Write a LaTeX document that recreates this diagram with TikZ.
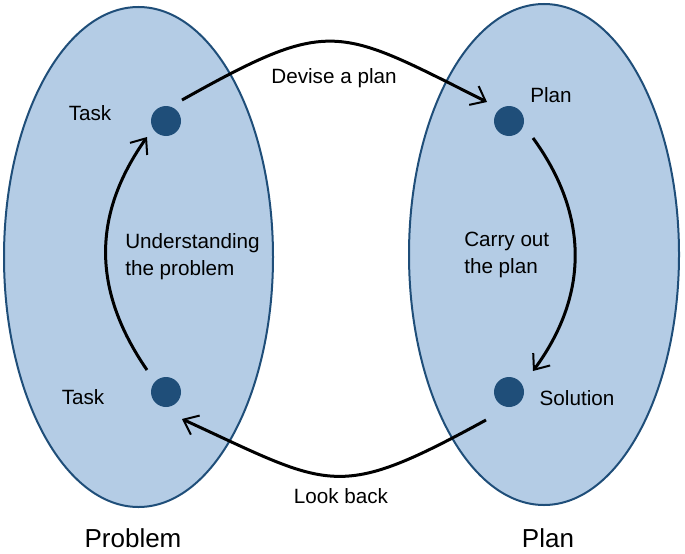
\documentclass[tikz,border=0pt]{standalone}
\usepackage{fontspec}
\setmainfont{Liberation Sans}
\usetikzlibrary{arrows.meta,shapes.geometric}
\definecolor{fillblue}{HTML}{B4CCE5}
\definecolor{edgeblue}{HTML}{1F4E79}
\definecolor{dotblue}{HTML}{1F4E79}
\begin{document}
\begin{tikzpicture}[x=0.75pt,y=-0.75pt,
  region/.style={ellipse, draw=edgeblue, fill=fillblue, line width=1.5pt, inner sep=0pt},
  dot/.style={circle, fill=dotblue, minimum size=22.5pt, inner sep=0pt},
  lbl/.style={font=\fontsize{15.5}{20.25}\selectfont, inner sep=0pt},
  title/.style={font=\fontsize{19.5}{24}\selectfont, inner sep=0pt},
  flow/.style={line width=2.25pt, -{Straight Barb[length=9.75pt,width=15.75pt,line width=1.5pt]}}
]
\path[use as bounding box] (0,0) rectangle (685,553);

\node[region, minimum width=201.75pt, minimum height=375pt] (problem) at (138.5,257) {};
\node[region, minimum width=202.5pt, minimum height=375.75pt] (plan) at (544,254.5) {};

\node[dot] (task1) at (166,121) {};
\node[dot] (task2) at (166,392) {};
\node[dot] (plan1) at (509,121) {};
\node[dot] (sol) at (509,392) {};

\coordinate (t1a) at ([shift={(16,-21)}]task1.center);
\coordinate (t1b) at ([shift={(-19,16)}]task1.center);
\coordinate (t2a) at ([shift={(16,27)}]task2.center);
\coordinate (t2b) at ([shift={(-19,-22)}]task2.center);
\coordinate (p1a) at ([shift={(-22,-19)}]plan1.center);
\coordinate (p1b) at ([shift={(24,17)}]plan1.center);
\coordinate (s2a) at ([shift={(-23,28)}]sol.center);
\coordinate (s2b) at ([shift={(24,-21)}]sol.center);

\draw[flow] (t1a) .. controls (332,16) and (337,27) .. (p1a);
\draw[flow] (s2a) .. controls (336,502) and (332,488) .. (t2a);
\draw[flow] (t2b) .. controls (92,290) and (92,215) .. (t1b);
\draw[flow] (p1b) .. controls (589,215) and (589,295) .. (s2b);

\node[lbl] (ltask1) at (90,113) {Task};
\node[lbl] (ltask2) at (83,397) {Task};
\node[lbl] (lplan) at (551,95) {Plan};
\node[lbl] (lsol) at (577,398) {Solution};
\node[lbl] (ldevise) at (334,78) {Devise a plan};
\node[lbl] (llook) at (341,496) {Look back};
\node[lbl, anchor=west, align=left] (lunder) at (125,256.5) {Understanding\\the problem};
\node[lbl, anchor=west, align=left] (lcarry) at (464,255) {Carry out\\the plan};
\node[title] (tproblem) at (133,538) {Problem};
\node[title] (tplan) at (548,538) {Plan};
\end{tikzpicture}
\end{document}
